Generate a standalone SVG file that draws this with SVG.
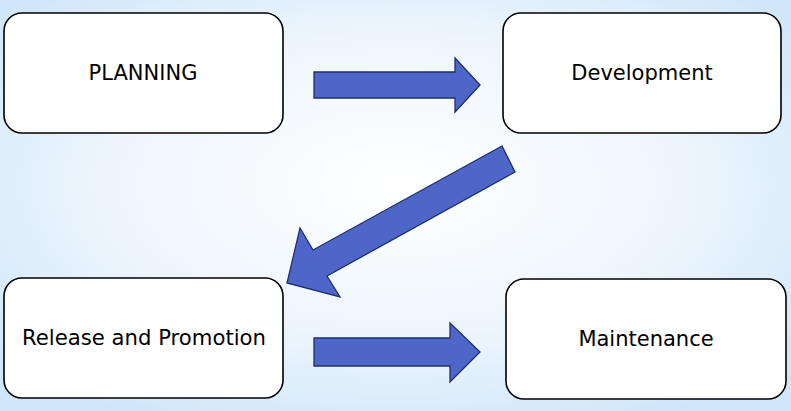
<svg xmlns="http://www.w3.org/2000/svg" width="791" height="411" viewBox="0 0 791 411">
<defs>
<radialGradient id="bg" cx="50%" cy="45%" r="65%">
<stop offset="0" stop-color="#ffffff"/>
<stop offset="0.55" stop-color="#eef6fd"/>
<stop offset="1" stop-color="#cfe6f9"/>
</radialGradient>
<style>
.box{fill:#fff;stroke:#000;stroke-width:1.6}
.lbl{font-family:"DejaVu Sans",sans-serif;font-size:21px;text-anchor:middle;dominant-baseline:central;fill:#000}
.arr{fill:#4f66c9;stroke:#1f2f6e;stroke-width:1.3}
</style>
</defs>
<rect width="791" height="411" fill="url(#bg)"/>
<g id="planning"><rect class="box" x="4" y="13" width="279" height="120" rx="18"/><text class="lbl" x="143" y="73">PLANNING</text></g>
<g id="development"><rect class="box" x="503" y="13" width="278" height="120" rx="18"/><text class="lbl" x="642" y="73">Development</text></g>
<g id="release"><rect class="box" x="4" y="278" width="279" height="120" rx="18"/><text class="lbl" x="144" y="338" textLength="244" lengthAdjust="spacingAndGlyphs">Release and Promotion</text></g>
<g id="maintenance"><rect class="box" x="506" y="279" width="280" height="120" rx="18"/><text class="lbl" x="646" y="339">Maintenance</text></g>
<g id="connectors">
<polygon class="arr" points="314,72 455,72 455,58 480,85 455,112 455,98 314,98"/>
<polygon class="arr" points="502,146 313,250 300,228 287,283 340,297 327,276 515,172"/>
<polygon class="arr" points="314,338 450,338 450,323 480,352 450,382 450,366 314,366"/>
</g>
</svg>
